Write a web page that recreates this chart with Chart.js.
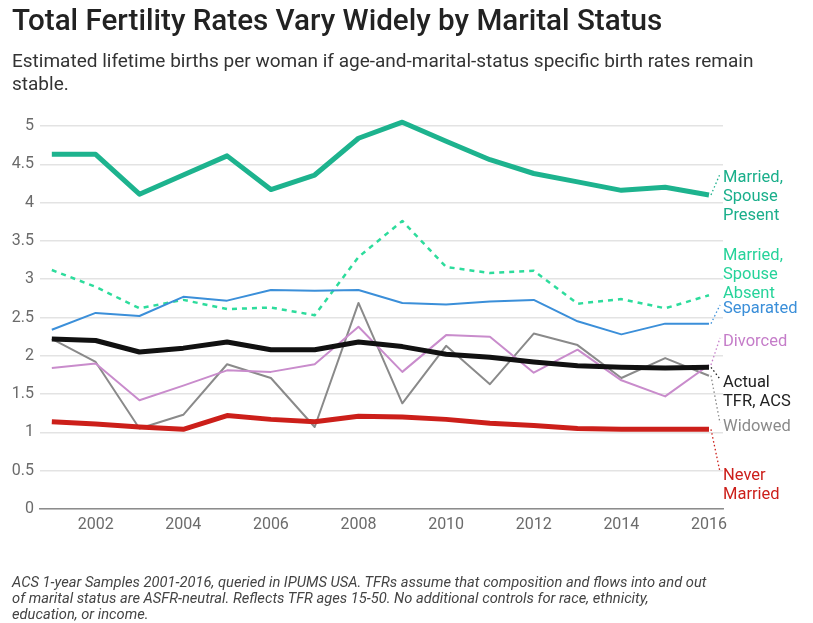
<!DOCTYPE html>
<html>
<head>
<meta charset="utf-8">
<script src="https://cdn.jsdelivr.net/npm/chart.js@4/dist/chart.umd.min.js"></script>
<style>
  html, body { margin: 0; padding: 0; background: #fff; }
  body { width: 813px; height: 623px; position: relative; overflow: hidden; font-family: Roboto, "Noto Sans", sans-serif; }
  #wrap { position: absolute; left: 0; top: 0; width: 813px; height: 623px; }
  #title { position: absolute; left: 12px; top: 3px; font-size: 29.6px; line-height: 34px; font-weight: 500; color: #222; white-space: nowrap; }
  #subtitle { position: absolute; left: 12px; top: 49px; font-size: 19px; line-height: 23px; color: #333; white-space: nowrap; }
  #note { position: absolute; left: 12px; top: 574px; font-size: 14.7px; line-height: 16px; font-style: italic; color: #444; white-space: nowrap; }
</style>
</head>
<body>
<div id="wrap"><canvas id="chart"></canvas></div>
<div id="title">Total Fertility Rates Vary Widely by Marital Status</div>
<div id="subtitle">Estimated lifetime births per woman if age-and-marital-status specific birth rates remain<br>stable.</div>
<div id="note">ACS 1-year Samples 2001-2016, queried in IPUMS USA. TFRs assume that composition and flows into and out<br>of marital status are ASFR-neutral. Reflects TFR ages 15-50. No additional controls for race, ethnicity,<br>education, or income.</div>
<script>
const years = [2001, 2002, 2003, 2004, 2005, 2006, 2007, 2008, 2009, 2010, 2011, 2012, 2013, 2014, 2015, 2016];
const xTicks = [2002, 2004, 2006, 2008, 2010, 2012, 2014, 2016];

const marriedPresent = [4.63, 4.63, 4.11, 4.36, 4.61, 4.17, 4.36, 4.84, 5.05, 4.80, 4.56, 4.38, 4.27, 4.16, 4.20, 4.10];
const marriedAbsent  = [3.12, 2.90, 2.62, 2.73, 2.61, 2.63, 2.53, 3.29, 3.76, 3.16, 3.08, 3.11, 2.68, 2.74, 2.62, 2.79];
const separated      = [2.34, 2.56, 2.52, 2.77, 2.72, 2.86, 2.85, 2.86, 2.69, 2.67, 2.71, 2.73, 2.45, 2.28, 2.42, 2.42];
const actualTFR      = [2.22, 2.20, 2.05, 2.10, 2.18, 2.08, 2.08, 2.18, 2.12, 2.02, 1.98, 1.92, 1.87, 1.85, 1.84, 1.85];
const divorced       = [1.84, 1.90, 1.42, 1.61, 1.81, 1.79, 1.89, 2.38, 1.79, 2.27, 2.25, 1.78, 2.08, 1.68, 1.47, 1.88];
const widowed        = [2.22, 1.92, 1.05, 1.23, 1.89, 1.71, 1.07, 2.69, 1.38, 2.13, 1.63, 2.29, 2.14, 1.71, 1.97, 1.74];
const neverMarried   = [1.14, 1.11, 1.07, 1.04, 1.22, 1.17, 1.14, 1.21, 1.20, 1.17, 1.12, 1.09, 1.05, 1.04, 1.04, 1.04];

function pts(vals) {
    return vals.map((v, i) => ({ x: years[i], y: v }));
}

// end labels: text lines, colour, y of first line, whether to draw a connector
const endLabels = [
    { lines: ['Never', 'Married'], color: '#cc1f1a', y: 476, link: true },
    { lines: ['Actual', 'TFR, ACS'], color: '#222222', y: 383, link: true },
    { lines: ['Married,', 'Spouse', 'Present'], color: '#1aaf8b', y: 178, link: true },
    { lines: ['Separated'], color: '#3b8fd9', y: 309, link: true },
    { lines: ['Married,', 'Spouse', 'Absent'], color: '#26d39a', y: 256, link: false },
    { lines: ['Divorced'], color: '#c57dc9', y: 342, link: true },
    { lines: ['Widowed'], color: '#8a8a8a', y: 427, link: true },
];

const labelPlugin = {
    id: 'endLabels',
    afterDatasetsDraw(chart) {
        const ctx = chart.ctx;
        const lx = chart.chartArea.right;
        ctx.save();
        ctx.font = '16.5px Roboto, sans-serif';
        ctx.textBaseline = 'middle';
        ctx.textAlign = 'left';
        endLabels.forEach((lab, i) => {
            const meta = chart.getDatasetMeta(i);
            const last = meta.data[meta.data.length - 1];
            if (lab.link) {
                ctx.beginPath();
                ctx.setLineDash([1.5, 2.5]);
                ctx.lineWidth = 1.3;
                ctx.strokeStyle = lab.color;
                ctx.moveTo(last.x + 2, last.y);
                ctx.lineTo(lx - 3, lab.y - 4);
                ctx.stroke();
                ctx.setLineDash([]);
            }
            ctx.fillStyle = lab.color;
            lab.lines.forEach((t, k) => ctx.fillText(t, lx, lab.y + k * 19));
        });
        ctx.restore();
    }
};

const datasets = [
    { data: pts(neverMarried), borderColor: '#cc1f1a', borderWidth: 5 },
    { data: pts(actualTFR), borderColor: '#111111', borderWidth: 5 },
    { data: pts(marriedPresent), borderColor: '#1db38e', borderWidth: 5 },
    { data: pts(separated), borderColor: '#3b8fd9', borderWidth: 2 },
    { data: pts(marriedAbsent), borderColor: '#2ddc9c', borderWidth: 2.5, borderDash: [5, 5] },
    { data: pts(divorced), borderColor: '#c98ccc', borderWidth: 2 },
    { data: pts(widowed), borderColor: '#8a8a8a', borderWidth: 2 },
];
datasets.forEach(d => {
    d.pointRadius = 0;
    d.tension = 0;
    d.fill = false;
    d.clip = false;
    d.borderJoinStyle = 'round';
});

new Chart(document.getElementById('chart'), {
    type: 'line',
    data: { datasets: datasets },
    options: {
        responsive: true,
        maintainAspectRatio: false,
        animation: false,
        layout: { padding: { left: 0, top: 126, right: 90, bottom: 84 } },
        plugins: { legend: { display: false }, tooltip: { enabled: false } },
        scales: {
            x: {
                type: 'linear',
                min: 2000.73,
                max: 2016.32,
                afterBuildTicks: s => { s.ticks = xTicks.map(v => ({ value: v })); },
                afterFit: s => { s.height = 30; },
                grid: { display: false, drawTicks: false },
                border: { display: true, color: '#8c8c8c', width: 1.5 },
                ticks: { color: '#6b6b6b', font: { size: 16, family: 'Roboto' }, padding: 6, maxRotation: 0, callback: v => String(v) }
            },
            y: {
                min: 0,
                max: 5,
                afterFit: s => { s.width = 40; },
                grid: { color: '#e3e3e3', lineWidth: 1.5, drawTicks: false },
                border: { display: false },
                ticks: { stepSize: 0.5, color: '#6b6b6b', font: { size: 16, family: 'Roboto' }, padding: 6, callback: v => String(v) }
            }
        }
    },
    plugins: [labelPlugin]
});
</script>
</body>
</html>
